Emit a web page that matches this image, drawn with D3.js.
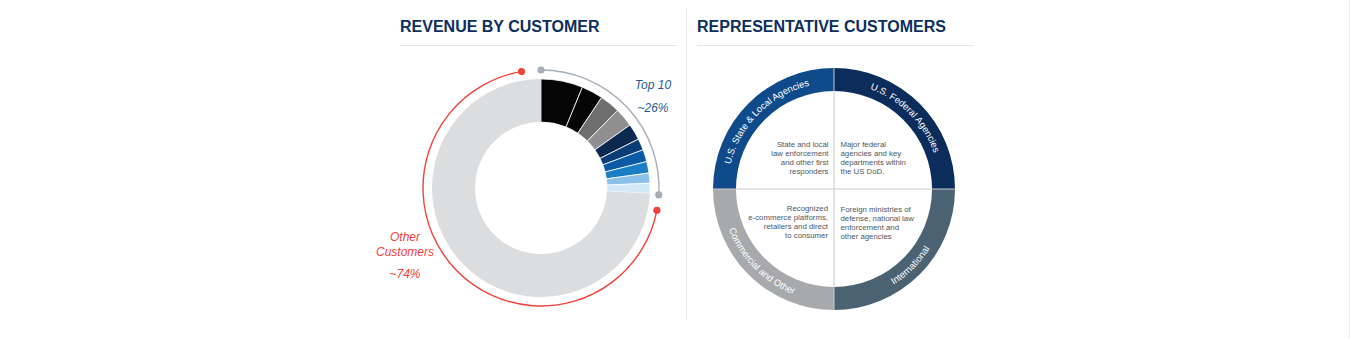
<!DOCTYPE html>
<html><head><meta charset="utf-8">
<script src="https://cdn.jsdelivr.net/npm/d3@7"></script>
<style>body{margin:0;background:#fff;}svg{display:block;font-family:"Liberation Sans",Arial,sans-serif;}</style>
</head><body>
<svg id="c" width="1351" height="339"></svg>
<script>
// ---- data ----
const titles = ["REVENUE BY CUSTOMER", "REPRESENTATIVE CUSTOMERS"];
const customerNames = ["Top 1","Top 2","Top 3","Top 4","Top 5","Top 6","Top 7","Top 8","Top 9","Top 10","Other Customers"];
const customerShares = [6.2, 3.2, 3.0, 2.8, 2.4, 1.7, 1.8, 1.7, 1.5, 1.5, 74.2];
const customerColors = ["#050505","#050505","#6e6e6e","#8f8f8f","#0b2850","#0a3d78","#0b5aa6","#1b7dc4","#8cc0e8","#d3e8f7","#dcdddf"];
const groupLabels = [["Top 10","~26%"],["Other","Customers","~74%"]];
const segmentNames = ["U.S. Federal Agencies","International","Commercial and Other","U.S. State & Local Agencies"];
const segmentShares = [1,1,1,1];
const segmentColors = ["#0c2d5c","#4b6272","#a7a9ac","#0f4a8a"];
const segmentDescriptions = [
  ["Major federal","agencies and key","departments within","the US DoD."],
  ["Foreign ministries of","defense, national law","enforcement and","other agencies"],
  ["Recognized","e-commerce platforms,","retailers and direct","to consumer"],
  ["State and local","law enforcement","and other first","responders"]
];

const svg = d3.select("#c");
const navy = "#0d2f5c";

// frame lines
svg.append("line").attr("x1",686.5).attr("x2",686.5).attr("y1",8).attr("y2",320).attr("stroke","#e6e6e6");
svg.append("line").attr("x1",1349.5).attr("x2",1349.5).attr("y1",0).attr("y2",339).attr("stroke","#ececec");

// titles
[[400,677],[697,974]].forEach((r,i)=>{
  svg.append("text").attr("x",r[0]).attr("y",31.5).attr("fill",navy)
    .attr("font-size",16).attr("font-weight","bold").text(titles[i]);
  svg.append("line").attr("x1",r[0]).attr("x2",r[1]).attr("y1",45.5).attr("y2",45.5).attr("stroke","#e6e6e6");
});

const P = (r,a)=>[r*Math.sin(a), -r*Math.cos(a)];
const deg = d=>d*Math.PI/180;
function arcPath(r,a0,a1,cw){
  const s=P(r,cw?a0:a1), e=P(r,cw?a1:a0);
  const large = Math.abs(a1-a0)>Math.PI?1:0;
  return `M${s[0]},${s[1]}A${r},${r} 0 ${large} ${cw?1:0} ${e[0]},${e[1]}`;
}

// ---- left donut ----
const g1 = svg.append("g").attr("transform","translate(541,188)");
const pie = d3.pie().sort(null).value(d=>d);
const arcs = pie(customerShares);
const arc1 = d3.arc().innerRadius(66).outerRadius(109);
g1.selectAll("path.s").data(arcs).join("path").attr("class","s")
  .attr("d",arc1).attr("fill",(d,i)=>customerColors[i])
  .attr("stroke","#fff").attr("stroke-width",(d,i)=>i<10?0.8:0);

const topEnd = arcs[9].endAngle;
const rA = 118;
g1.append("path").attr("d",arcPath(rA,0,topEnd+deg(0.5),true)).attr("fill","none").attr("stroke","#a5aeb8").attr("stroke-width",1.4);
[0,topEnd+deg(0.5)].forEach(a=>{const p=P(rA,a);g1.append("circle").attr("cx",p[0]).attr("cy",p[1]).attr("r",3.6).attr("fill","#a5aeb8");});
const o0 = topEnd+deg(8), o1 = deg(350.5);
g1.append("path").attr("d",arcPath(rA,o0,o1,true)).attr("fill","none").attr("stroke","#f0413a").attr("stroke-width",1.4);
[o0,o1].forEach(a=>{const p=P(rA,a);g1.append("circle").attr("cx",p[0]).attr("cy",p[1]).attr("r",3.6).attr("fill","#f0413a");});

svg.append("g").selectAll("text").data(groupLabels[0]).join("text")
  .attr("x",653).attr("y",(d,i)=>89+i*23).attr("text-anchor","middle")
  .attr("font-size",12).attr("font-style","italic").attr("fill","#1f5b98").text(d=>d);
svg.append("g").selectAll("text").data(groupLabels[1]).join("text")
  .attr("x",405).attr("y",(d,i)=>[241,256,277.5][i]).attr("text-anchor","middle")
  .attr("font-size",12).attr("font-style","italic").attr("fill","#f0413a").text(d=>d);

// ---- right ring ----
const cx2=834, cy2=189, rIn=98, rOut=121;
const g2 = svg.append("g").attr("transform",`translate(${cx2},${cy2})`);
const segArcs = pie(segmentShares);
const arc2 = d3.arc().innerRadius(rIn).outerRadius(rOut);
g2.selectAll("path.q").data(segArcs).join("path").attr("class","q")
  .attr("d",arc2).attr("fill",(d,i)=>segmentColors[i]);
g2.append("line").attr("x1",-rOut).attr("x2",rOut).attr("y1",0).attr("y2",0).attr("stroke","#c9cbce").attr("stroke-width",1);
g2.append("line").attr("y1",-rOut).attr("y2",rOut).attr("x1",0).attr("x2",0).attr("stroke","#c9cbce").attr("stroke-width",1);

// curved labels: each glyph placed along the arc
const fs = 9.4;
segArcs.forEach((d,i)=>{
  const mid=(d.startAngle+d.endAngle)/2;
  const top = Math.cos(mid)>0;
  const r = top? 106.3 : 112.7;
  const name = segmentNames[i];
  const tmp = g2.append("text").attr("font-size",fs).text(name);
  const node = tmp.node();
  const widths = [];
  for(let k=0;k<name.length;k++) widths.push(node.getSubStringLength(k,1));
  tmp.remove();
  const L = d3.sum(widths);
  let acc = 0;
  const lg = g2.append("g");
  for(let k=0;k<name.length;k++){
    const c = acc + widths[k]/2; acc += widths[k];
    if(name[k]===" ") continue;
    const ang = top ? mid + (c - L/2)/r : mid - (c - L/2)/r;
    const p = P(r, ang);
    const rot = ang*180/Math.PI + (top?0:180);
    lg.append("text").attr("font-size",fs).attr("fill","#fff").attr("text-anchor","middle")
      .attr("transform",`translate(${p[0]},${p[1]}) rotate(${rot})`).text(name[k]);
  }
});

// descriptions
const descPos = [
  {x:840.5, y:146.5, a:"start"},
  {x:840.5, y:211.5, a:"start"},
  {x:828, y:211, a:"end"},
  {x:828.5, y:146.5, a:"end"}
];
segmentDescriptions.forEach((lines,i)=>{
  svg.append("g").selectAll("text").data(lines).join("text")
    .attr("x",descPos[i].x).attr("y",(d,j)=>descPos[i].y+j*9).attr("text-anchor",descPos[i].a)
    .attr("font-size",7.8).attr("fill","#4d5661").text(d=>d);
});
</script>
</body></html>
